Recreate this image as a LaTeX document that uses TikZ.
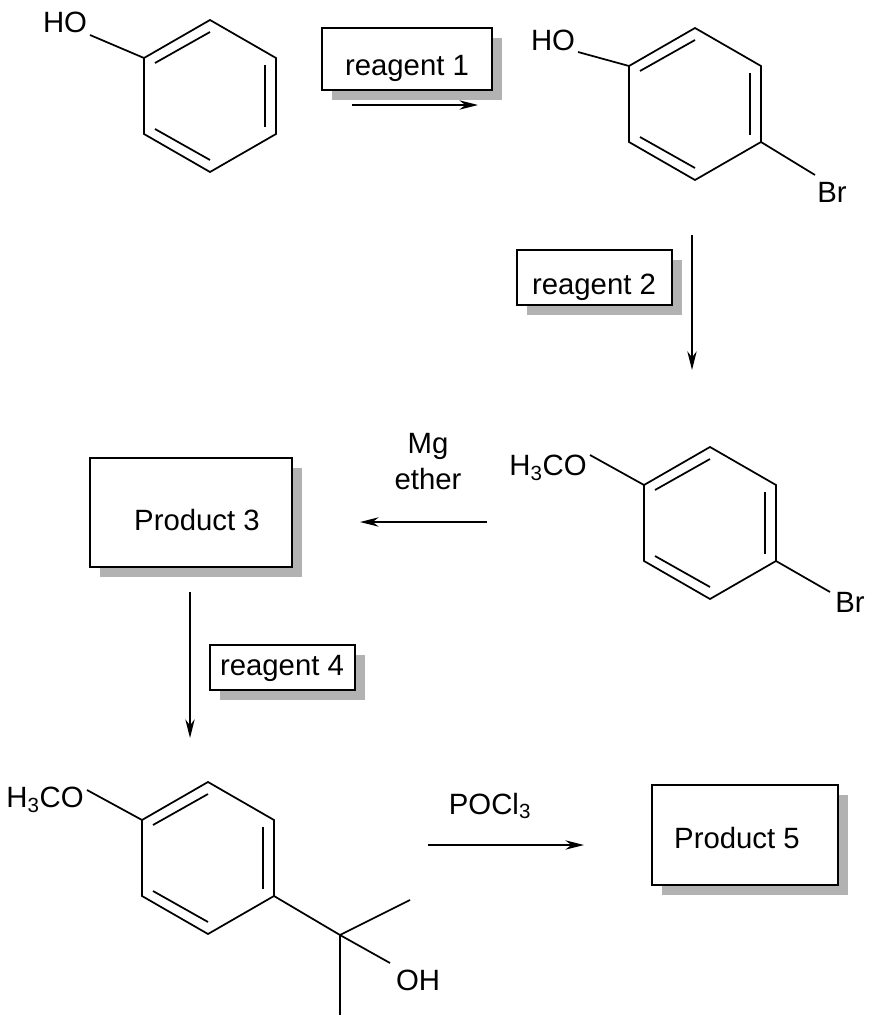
\documentclass[tikz,border=0pt]{standalone}
\usepackage{fontspec}
\setmainfont{Liberation Sans}
\usetikzlibrary{arrows.meta}
\begin{document}
\begin{tikzpicture}[x=0.75pt,y=-0.75pt,line width=1.3pt,
  lbl/.style={font=\fontsize{22}{26}\selectfont,inner sep=1pt},
  box/.style={draw,fill=white,line width=1.1pt},
  shadow/.style={fill=black!30,draw=none},
  rxn/.style={-{Stealth[length=14pt,width=7pt]},line width=1.2pt}]
\useasboundingbox (0,0) rectangle (871,1024);
% ring: #1 center x, #2 center y
\newcommand{\ring}[2]{%
  \begin{scope}[shift={(#1,#2)}]
    \draw (-66,-38) -- (0,-76) -- (66,-38) -- (66,38) -- (0,76) -- (-66,38) -- cycle;
    \draw (-55,-33) -- (0,-64);
    \draw (55,-31) -- (55,31);
    \draw (0,64) -- (-55,33);
  \end{scope}}
\newcommand{\shbox}[4]{%
  \fill[shadow] (#1+10,#2+10) rectangle (#3+10,#4+10);
  \draw[box] (#1,#2) rectangle (#3,#4);}
% molecule 1
\ring{210}{96}
\node[lbl] (ho1) at (65,22) {HO};
\draw (90,35) -- (144,58);
% step 1
\shbox{322}{28}{492}{90}
\node[lbl] (r1) at (407,68) {reagent 1};
\coordinate (a1s) at (352,105); \coordinate (a1e) at (478,105);
\draw[rxn] (a1s) -- (a1e);
% molecule 2
\ring{695}{104}
\node[lbl] (ho2) at (553,40) {HO};
\draw (578,52) -- (629,66);
\node[lbl] (br2) at (832,192) {Br};
\draw (761,142) -- (815,175);
% step 2
\shbox{517}{250}{672}{305}
\node[lbl] (r2) at (594,287) {reagent 2};
\coordinate (a2s) at (692,235); \coordinate (a2e) at (692,370);
\draw[rxn] (a2s) -- (a2e);
% molecule 3
\ring{710}{523}
\node[lbl] (meo3) at (548,468) {H\textsubscript{3}CO};
\draw (590,455) -- (644,485);
\node[lbl] (br3) at (850,602) {Br};
\draw (776,561) -- (830,592);
% step 3
\node[lbl] (mg) at (428,446) {Mg};
\node[lbl] (eth) at (428,479) {ether};
\coordinate (a3s) at (487,522); \coordinate (a3e) at (360,522);
\draw[rxn] (a3s) -- (a3e);
\shbox{90}{458}{292}{567}
\node[lbl] (p3) at (197,520) {Product 3};
% step 4
\coordinate (a4s) at (190,592); \coordinate (a4e) at (190,738);
\draw[rxn] (a4s) -- (a4e);
\shbox{210}{645}{355}{690}
\node[lbl] (r4) at (282,668) {reagent 4};
% molecule 4
\ring{208}{858}
\node[lbl] (meo4) at (45,800) {H\textsubscript{3}CO};
\draw (87,790) -- (142,820);
\coordinate (cq) at (340,935);
\draw (274,896) -- (cq) -- (410,900);
\draw (cq) -- (340,1015);
\draw (cq) -- (390,963);
\node[lbl] (oh4) at (418,980) {OH};
% step 5
\node[lbl] (pocl) at (490,806) {POCl\textsubscript{3}};
\coordinate (a5s) at (428,845); \coordinate (a5e) at (584,845);
\draw[rxn] (a5s) -- (a5e);
\shbox{652}{785}{838}{885}
\node[lbl] (p5) at (737,838) {Product 5};
\end{tikzpicture}
\end{document}
